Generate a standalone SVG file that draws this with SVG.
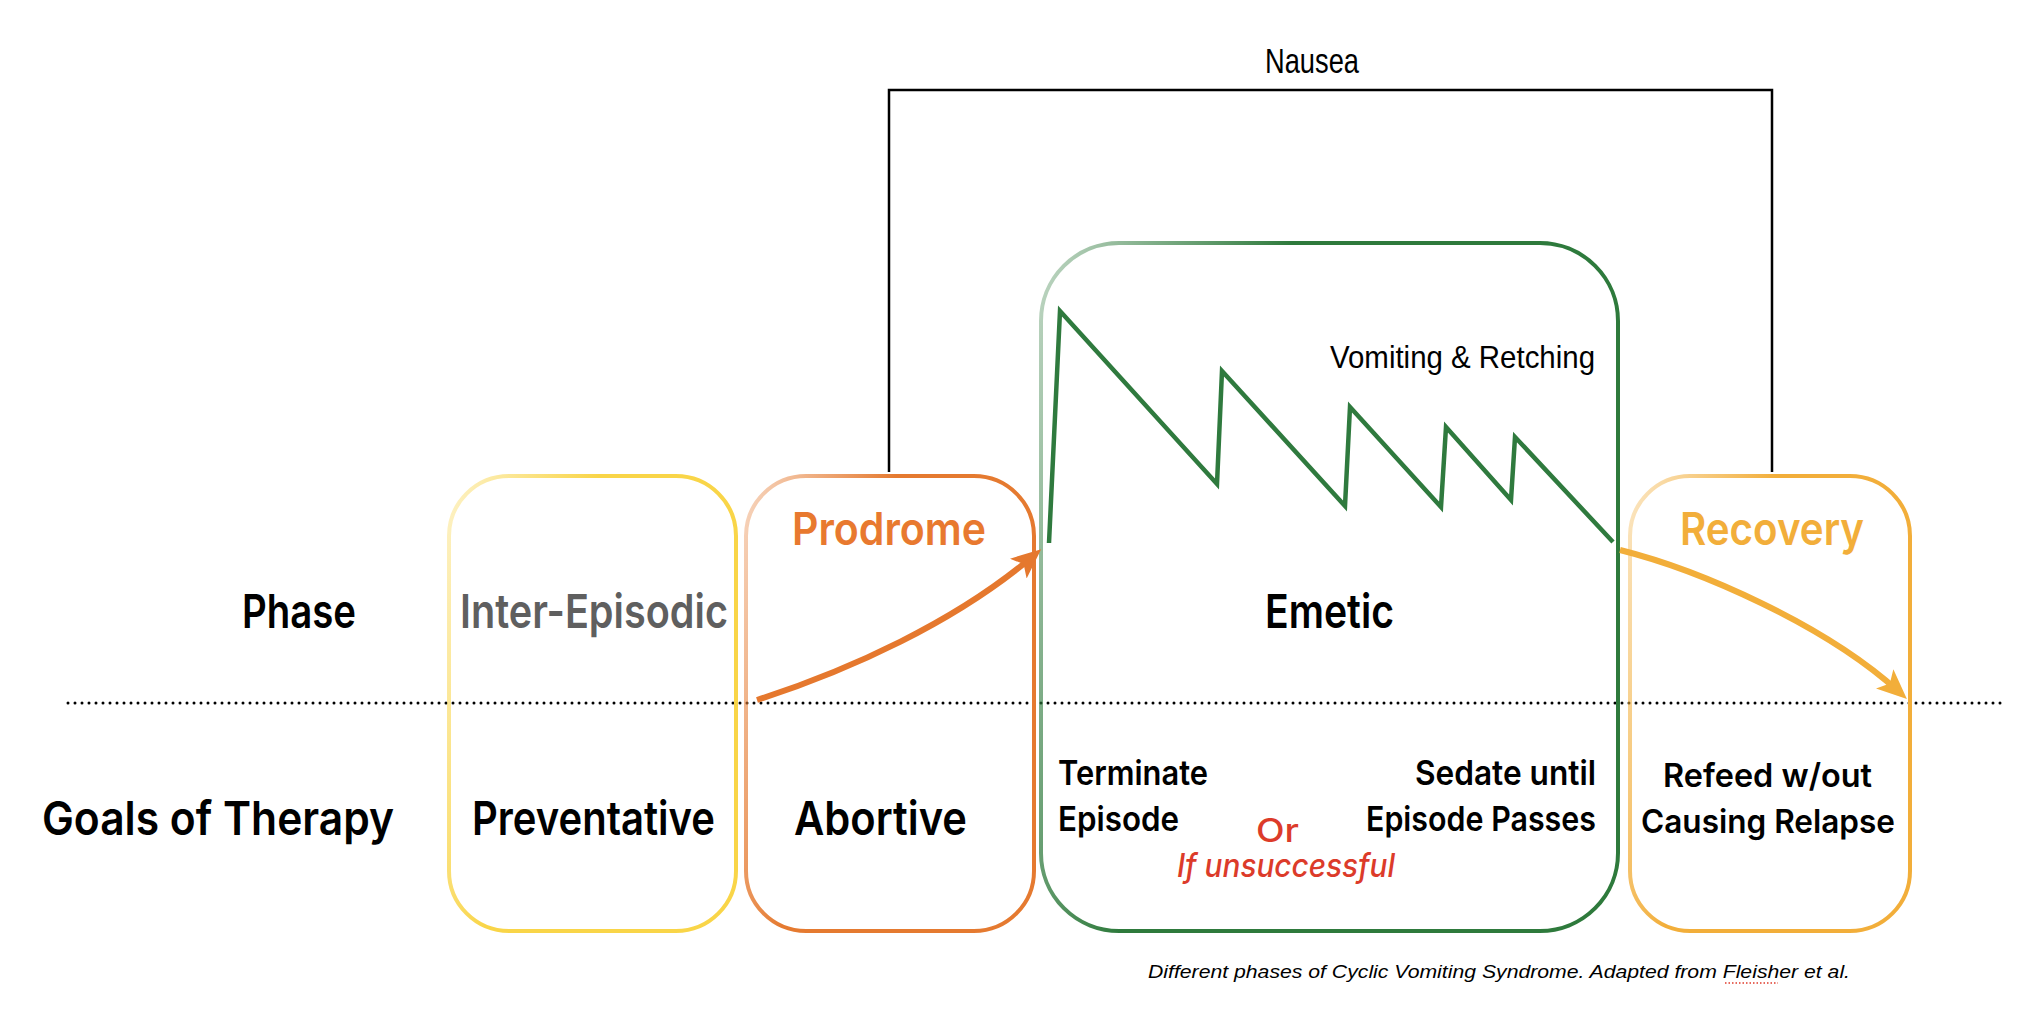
<svg xmlns="http://www.w3.org/2000/svg" width="2020" height="1014" viewBox="0 0 2020 1014">
<style>
.lbl{font-family:Inter,"Liberation Sans",sans-serif;font-weight:600;fill:#000}
.big{font-size:47px}
.mid{font-size:45px}
.sm{font-size:34px}
.hand{font-family:"Liberation Sans",Arial,sans-serif;font-weight:400;fill:#000}
.red{fill:#dc3b2a}
.box{fill:none;stroke-width:4}
.conn{fill:none}
</style>
<defs>
<linearGradient id="gY" x1="0" y1="0" x2="0.45" y2="0.18"><stop offset="0" stop-color="#f9d548" stop-opacity="0.3"/><stop offset="1" stop-color="#f9d548"/></linearGradient>
<linearGradient id="gO" x1="0" y1="0" x2="0.45" y2="0.18"><stop offset="0" stop-color="#e57a30" stop-opacity="0.3"/><stop offset="1" stop-color="#e57a30"/></linearGradient>
<linearGradient id="gG" x1="0" y1="0" x2="0.4" y2="0.12"><stop offset="0" stop-color="#2e7a3c" stop-opacity="0.3"/><stop offset="1" stop-color="#2e7a3c"/></linearGradient>
<linearGradient id="gR" x1="0" y1="0" x2="0.45" y2="0.18"><stop offset="0" stop-color="#f2ae3a" stop-opacity="0.3"/><stop offset="1" stop-color="#f2ae3a"/></linearGradient>
<marker id="arO" markerUnits="userSpaceOnUse" markerWidth="30" markerHeight="26" viewBox="0 0 30 26" refX="18" refY="13" orient="auto"><path d="M0,0 L30,13 L0,26 L7,13 z" fill="#e5782e"/></marker>
<marker id="arR" markerUnits="userSpaceOnUse" markerWidth="30" markerHeight="26" viewBox="0 0 30 26" refX="18" refY="13" orient="auto"><path d="M0,0 L30,13 L0,26 L7,13 z" fill="#f2ae3a"/></marker>
</defs>
<rect width="2020" height="1014" fill="#fff"/>

<g id="divider">
<line x1="68" y1="703" x2="2006" y2="703" stroke="#000" stroke-width="3" stroke-linecap="round" stroke-dasharray="0 7"/>
</g>

<g id="row-labels">
<text class="lbl big" x="242" y="628" textLength="114" lengthAdjust="spacingAndGlyphs">Phase</text>
<text class="lbl big" x="42" y="835" textLength="352" lengthAdjust="spacingAndGlyphs">Goals of Therapy</text>
</g>

<g id="inter-episodic">
<rect class="box" x="449" y="476" width="287" height="455" rx="60" stroke="url(#gY)"/>
<text class="lbl big" x="460" y="628" textLength="268" lengthAdjust="spacingAndGlyphs" style="fill:#5f5f5f">Inter-Episodic</text>
<text class="lbl big" x="472" y="835" textLength="243" lengthAdjust="spacingAndGlyphs">Preventative</text>
</g>

<g id="prodrome">
<rect class="box" x="746" y="476" width="288" height="455" rx="60" stroke="url(#gO)"/>
<text class="lbl mid" x="792" y="545" textLength="194" lengthAdjust="spacingAndGlyphs" style="fill:#e8792f">Prodrome</text>
<text class="lbl big" x="794" y="835" textLength="173" lengthAdjust="spacingAndGlyphs">Abortive</text>
</g>

<g id="emetic">
<rect class="box" x="1041" y="243" width="577" height="688" rx="78" stroke="url(#gG)"/>
<polyline points="1049,543 1060,311 1217,484 1222,371 1345,506 1350,407 1441,507 1446,427 1511,500 1515,437 1613,542" fill="none" stroke="#2f7a3e" stroke-width="4.5" stroke-linejoin="miter"/>
<text class="hand" x="1330" y="368" font-size="32" textLength="265" lengthAdjust="spacingAndGlyphs">Vomiting &amp; Retching</text>
<text class="lbl big" x="1265" y="628" textLength="129" lengthAdjust="spacingAndGlyphs">Emetic</text>
<text class="lbl sm" x="1058" y="785" textLength="150" lengthAdjust="spacingAndGlyphs">Terminate</text>
<text class="lbl sm" x="1058" y="831" textLength="121" lengthAdjust="spacingAndGlyphs">Episode</text>
<text class="lbl sm" x="1415" y="785" textLength="181" lengthAdjust="spacingAndGlyphs">Sedate until</text>
<text class="lbl sm" x="1366" y="831" textLength="230" lengthAdjust="spacingAndGlyphs">Episode Passes</text>
<text class="lbl red" x="1256" y="842" font-size="32" style="font-weight:500" textLength="43" lengthAdjust="spacingAndGlyphs">Or</text>
<text class="lbl red" x="1177" y="877" font-size="32" font-style="italic" style="font-weight:500" textLength="218" lengthAdjust="spacingAndGlyphs">If unsuccessful</text>
</g>

<g id="recovery">
<rect class="box" x="1630" y="476" width="280" height="455" rx="60" stroke="url(#gR)"/>
<text class="lbl mid" x="1680" y="545" textLength="184" lengthAdjust="spacingAndGlyphs" style="fill:#f2ae3a">Recovery</text>
<text class="lbl" x="1663" y="787" font-size="33" textLength="209" lengthAdjust="spacingAndGlyphs">Refeed w/out</text>
<text class="lbl" x="1641" y="833" font-size="33" textLength="254" lengthAdjust="spacingAndGlyphs">Causing Relapse</text>
</g>

<g id="nausea">
<text class="hand" x="1265" y="73" font-size="35" textLength="94" lengthAdjust="spacingAndGlyphs">Nausea</text>
</g>

<g id="connectors">
<polyline class="conn" points="889,472 889,90 1772,90 1772,472" stroke="#000" stroke-width="2.5"/>
<path class="conn" d="M757,700 C850,670 955,622 1032,557" stroke="#e5782e" stroke-width="6" marker-end="url(#arO)"/>
<path class="conn" d="M1620,550 C1700,570 1825,625 1898,691" stroke="#f2ae3a" stroke-width="6" marker-end="url(#arR)"/>
</g>

<g id="caption">
<text x="1148" y="978" font-family="'Liberation Sans',Arial,sans-serif" font-style="italic" font-size="19" textLength="702" lengthAdjust="spacingAndGlyphs" fill="#000">Different phases of Cyclic Vomiting Syndrome. Adapted from Fleisher et al.</text>
<line x1="1725" y1="983" x2="1778" y2="983" stroke="#e03a2a" stroke-width="1.5" stroke-dasharray="1.5 2"/>
</g>
</svg>
